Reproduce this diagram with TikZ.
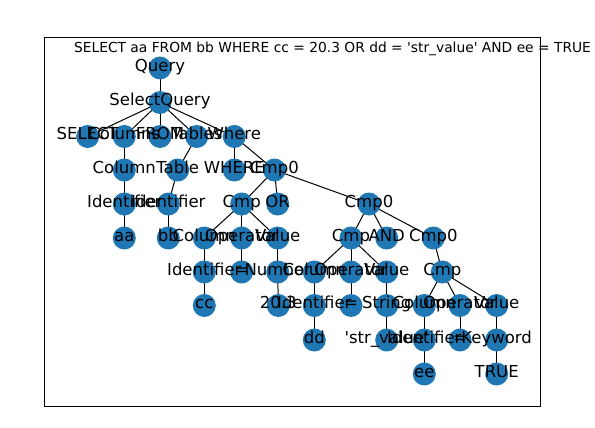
\documentclass[tikz,border=0pt]{standalone}
\usepackage{fontspec}
\setmainfont{DejaVu Sans}
\pgfdeclarelayer{bg}
\pgfdeclarelayer{fg}
\pgfsetlayers{bg,main,fg}
\definecolor{nodeblue}{HTML}{1F77B4}
\tikzset{
  dot/.style={circle,fill=nodeblue,draw=none,minimum size=23pt,inner sep=0pt},
  lbl/.style={inner sep=0pt,text height=0.76em,text depth=0.24em,yshift=-0.8pt,font=\fontsize{16.5}{18}\selectfont},
  conn/.style={draw=black,line width=1pt},
  frame/.style={line width=1pt,black}
}
\newcommand{\plnode}[4]{\node[dot] (#1) at (#2,#3) {};
  \begin{pgfonlayer}{fg}\node[lbl] at (#1.center) {#4};\end{pgfonlayer}}
\begin{document}
\begin{tikzpicture}[x=1pt,y=-1pt]
\useasboundingbox (0,0) rectangle (595,428);
\begin{pgfonlayer}{bg}
\fill[white] (0,0) rectangle (595,428);
\end{pgfonlayer}
\draw[frame] (44.3,37.3) rectangle (540.3,406);
\node[anchor=base,inner sep=0pt,font=\fontsize{13.8}{15}\selectfont] (title) at (332.5,52.5) {SELECT aa FROM bb WHERE cc = 20.3 OR dd = \textquotesingle str\_value\textquotesingle{} AND ee = TRUE};
% row 1-2
\plnode{q}{160}{68}{Query}
\plnode{sq}{160}{102.5}{SelectQuery}
% row 3
\plnode{sel}{87.7}{136.5}{SELECT}
\plnode{cols}{124.3}{136.5}{Columns}
\plnode{from}{160}{136.5}{FROM}
\plnode{tabs}{196.7}{136.5}{Tables}
\plnode{wh}{234.3}{136.5}{Where}
% row 4
\plnode{col1}{124.3}{170}{Column}
\plnode{tab}{177.7}{170}{Table}
\plnode{where}{234.3}{170}{WHERE}
\plnode{c0a}{274.5}{170}{Cmp0}
% row 5
\plnode{id1}{124.3}{204}{Identifier}
\plnode{id2}{168.3}{204}{Identifier}
\plnode{cmpa}{241.7}{204}{Cmp}
\plnode{or}{277.7}{204}{OR}
\plnode{c0b}{369}{204}{Cmp0}
% row 6
\plnode{aa}{124.3}{238}{aa}
\plnode{bb}{168.3}{238}{bb}
\plnode{cola}{204.3}{238}{Column}
\plnode{opa}{241.7}{238}{Operator}
\plnode{vala}{277.7}{238}{Value}
\plnode{cmpb}{351}{238}{Cmp}
\plnode{and}{386.7}{238}{AND}
\plnode{c0c}{433.3}{238}{Cmp0}
% row 7
\plnode{ida}{204.3}{272}{Identifier}
\plnode{eqa}{241.7}{272}{=}
\plnode{num}{277.7}{272}{Number}
\plnode{colb}{314.3}{272}{Column}
\plnode{opb}{351}{272}{Operator}
\plnode{valb}{386.7}{272}{Value}
\plnode{cmpc}{442.3}{272}{Cmp}
% row 8
\plnode{cc}{204.3}{305.5}{cc}
\plnode{n203}{278.3}{305.5}{20.3}
\plnode{idb}{314.3}{305.5}{Identifier}
\plnode{eqb}{351}{305.5}{=}
\plnode{str}{386.7}{305.5}{String}
\plnode{colc}{424.3}{305.5}{Column}
\plnode{opc}{460}{305.5}{Operator}
\plnode{valc}{496.7}{305.5}{Value}
% row 9
\plnode{dd}{314.3}{340}{dd}
\plnode{sv}{386.7}{340}{\textquotesingle str\_value\textquotesingle}
\plnode{idc}{424.3}{340}{Identifier}
\plnode{eqc}{460}{340}{=}
\plnode{kw}{496.7}{340}{Keyword}
% row 10
\plnode{ee}{424.3}{374}{ee}
\plnode{true}{496.7}{374}{TRUE}
\begin{pgfonlayer}{bg}
\foreach \a/\b in {q/sq, sq/sel, sq/cols, sq/from, sq/tabs, sq/wh,
  cols/col1, col1/id1, id1/aa, tabs/tab, tab/id2, id2/bb,
  wh/where, wh/c0a, c0a/cmpa, c0a/or, c0a/c0b,
  cmpa/cola, cmpa/opa, cmpa/vala, cola/ida, ida/cc, opa/eqa, vala/num, num/n203,
  c0b/cmpb, c0b/and, c0b/c0c,
  cmpb/colb, cmpb/opb, cmpb/valb, colb/idb, idb/dd, opb/eqb, valb/str, str/sv,
  c0c/cmpc, cmpc/colc, cmpc/opc, cmpc/valc, colc/idc, idc/ee, opc/eqc, valc/kw, kw/true}
  \draw[conn] (\a.center) -- (\b.center);
\end{pgfonlayer}
\end{tikzpicture}
\end{document}
